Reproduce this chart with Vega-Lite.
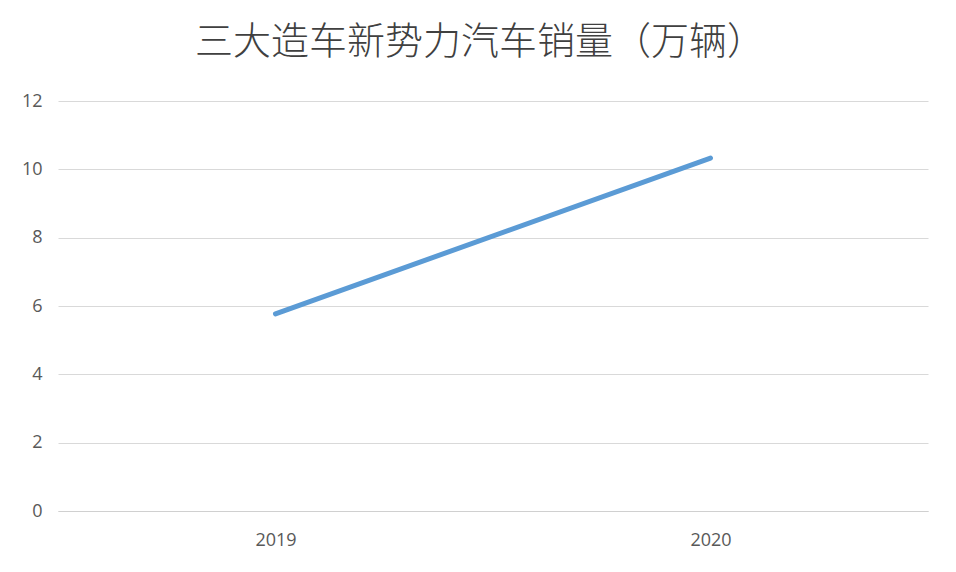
{
  "$schema": "https://vega.github.io/schema/vega-lite/v6.json",
  "width": 870,
  "height": 410,
  "autosize": {"type": "none"},
  "padding": {"left": 58, "top": 101, "right": 28, "bottom": 61},
  "background": "#ffffff",
  "title": {
    "text": "三大造车新势力汽车销量（万辆）",
    "font": "Noto Sans CJK SC",
    "fontSize": 38,
    "fontWeight": 300,
    "color": "#404040",
    "anchor": "middle",
    "offset": 30,
    "dx": -13
  },
  "config": {
    "view": {"stroke": null},
    "axis": {"labelFont": "Open Sans", "labelFontSize": 18, "labelColor": "#595959"}
  },
  "data": {
    "values": [
      {"year": "2019", "sales": 5.77},
      {"year": "2020", "sales": 10.33}
    ]
  },
  "mark": {"type": "line", "color": "#5b9bd5", "strokeWidth": 5, "strokeCap": "round"},
  "encoding": {
    "x": {
      "field": "year",
      "type": "ordinal",
      "scale": {"paddingInner": 0, "paddingOuter": 0},
      "axis": {"title": null, "labelAngle": 0, "domainColor": "#d0d0d0", "ticks": false, "labelPadding": 20}
    },
    "y": {
      "field": "sales",
      "type": "quantitative",
      "scale": {"domain": [0, 12]},
      "axis": {"title": null, "values": [0, 2, 4, 6, 8, 10, 12], "domain": false, "ticks": false, "gridColor": "#d9d9d9", "labelPadding": 16}
    }
  }
}
